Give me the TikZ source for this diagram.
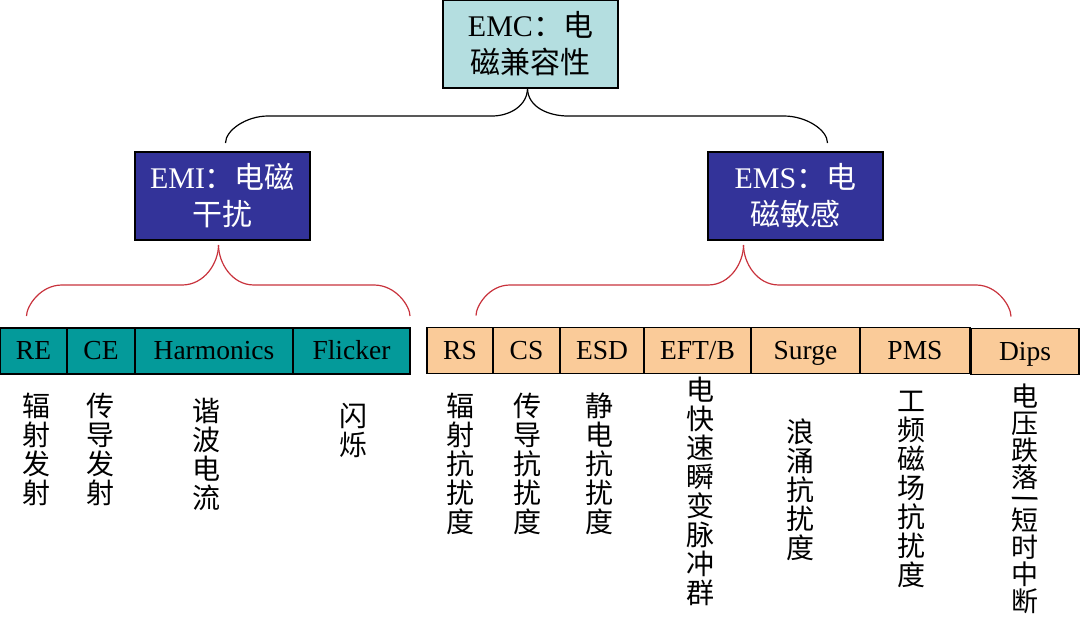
\documentclass[tikz,border=0pt]{standalone}
\usepackage{fontspec}
\setmainfont{Liberation Serif}
\newfontfamily\cjk{Noto Sans CJK SC}
\usepackage{tikz}
\usetikzlibrary{positioning, calc}
\definecolor{toplight}{HTML}{B4DEE0}
\definecolor{midnavy}{HTML}{333399}
\definecolor{leafteal}{HTML}{049A9A}
\definecolor{leafpeach}{HTML}{FACB99}
\definecolor{bracered}{HTML}{C8323C}
\tikzset{
    x=1pt, y=1pt, % Positions below in pixels
    node distance=0pt,
    every node/.style={inner sep=0pt, outer sep=0pt},
    topbox/.style={ % Sets the properties for the two upper levels
        draw=black, line width=1.3pt,
        minimum width=175pt, minimum height=88pt,
        align=center,
        font=\fontsize{30}{37}\selectfont
    },
    leafbox/.style={ % Sets the properties for each standard box
        draw=black, line width=1.3pt,
        minimum height=46pt, text height=18pt, text depth=1pt,
        font=\fontsize{27.5}{30}\selectfont
    },
    tealbox/.style={leafbox, fill=leafteal},
    peachbox/.style={leafbox, fill=leafpeach},
    vlabel/.style={ % Columns of text under the boxes
        anchor=north, align=center,
        font=\cjk\fontsize{28}{29}\selectfont
    },
    dipslabel/.style={ % The last column is set tighter
        vlabel,
        font=\cjk\fontsize{27}{27}\selectfont
    },
    blacklink/.style={draw=black, line width=1.2pt},
    redlink/.style={draw=bracered, line width=1.2pt}
}
\begin{document}
\begin{tikzpicture}
    \useasboundingbox (0,0) rectangle (1080,-625);
    % upper levels
    \node[topbox, fill=toplight]              (emc) at (530.5,-44)  {EMC{\cjk：电}\\{\cjk 磁兼容性}};
    \node[topbox, fill=midnavy, text=white]   (emi) at (222.5,-196) {EMI{\cjk：电磁}\\{\cjk 干扰}};
    \node[topbox, fill=midnavy, text=white]   (ems) at (795.5,-196) {EMS{\cjk：电}\\{\cjk 磁敏感}};
    % emission row
    \node[tealbox, minimum width=67pt]                    (re)       at (33.5,-351) {RE};
    \node[tealbox, minimum width=68pt, right=of re]       (ce)       {CE};
    \node[tealbox, minimum width=158pt, right=of ce]      (harmonics) {Harmonics};
    \node[tealbox, minimum width=117pt, right=of harmonics] (flicker) {Flicker};
    % immunity row
    \node[peachbox, minimum width=66pt]                   (rs)       at (460,-350.5) {RS};
    \node[peachbox, minimum width=67pt, right=of rs]      (cs)       {CS};
    \node[peachbox, minimum width=84pt, right=of cs]      (esd)      {ESD};
    \node[peachbox, minimum width=107pt, right=of esd]    (eftb)     {EFT/B};
    \node[peachbox, minimum width=109pt, right=of eftb]   (surge)    {Surge};
    \node[peachbox, minimum width=110pt, right=of surge]  (pms)      {PMS};
    \node[peachbox, minimum width=108pt, right=1pt of pms, yshift=-1pt] (dips) {Dips};
    % columns
    \node[vlabel] (reText)        at (36,-393)   {辐\\射\\发\\射};
    \node[vlabel] (ceText)        at (100,-393)  {传\\导\\发\\射};
    \node[vlabel] (harmonicsText) at (206,-398)  {谐\\波\\电\\流};
    \node[vlabel] (flickerText)   at (353,-403)  {闪\\烁};
    \node[vlabel] (rsText)        at (460,-393)  {辐\\射\\抗\\扰\\度};
    \node[vlabel] (csText)        at (527,-393)  {传\\导\\抗\\扰\\度};
    \node[vlabel] (esdText)       at (599,-393)  {静\\电\\抗\\扰\\度};
    \node[vlabel] (eftbText)      at (700,-377)  {电\\快\\速\\瞬\\变\\脉\\冲\\群};
    \node[vlabel] (surgeText)     at (800,-419)  {浪\\涌\\抗\\扰\\度};
    \node[vlabel] (pmsText)       at (911,-391)  {工\\频\\磁\\场\\抗\\扰\\度};
    \node[dipslabel] (dipsText)    at (1025,-384) {电\\压\\跌\\落};
    \node[rotate=-72, font=\bfseries\fontsize{36}{36}\selectfont] (dipsSlash) at (1025,-499) {/};
    \node[dipslabel] (dipsTextTwo) at (1025,-508) {短\\时\\中\\断};
    % bends of the braces
    \coordinate (emcLeft)  at (492,-116);
    \coordinate (emcRight) at (568,-116);
    \coordinate (emcOne)   at (268,-116);
    \coordinate (emcTwo)   at (784,-116);
    \coordinate (emiLeft)  at (182,-285);
    \coordinate (emiRight) at (254,-285);
    \coordinate (emiOne)   at (62,-285);
    \coordinate (emiTwo)   at (374,-285);
    \coordinate (emsLeft)  at (708,-285);
    \coordinate (emsRight) at (779,-285);
    \coordinate (emsOne)   at (510,-285);
    \coordinate (emsTwo)   at (976,-285);
    % braces
    \draw[blacklink, shorten >=9pt] ([xshift=-3pt]emc.south) to[out=-90,in=0] (emcLeft) -- (emcOne)
        to[out=180,in=90] ([xshift=3pt]emi.north);
    \draw[blacklink, shorten >=9pt] ([xshift=-3pt]emc.south) to[out=-90,in=180] (emcRight) -- (emcTwo)
        to[out=0,in=90] ([xshift=32pt]ems.north);
    \draw[redlink, shorten <=5pt, shorten >=12pt] ([xshift=-4pt]emi.south) to[out=-90,in=0] (emiLeft) -- (emiOne)
        to[out=180,in=90] ([xshift=-7pt]re.north);
    \draw[redlink, shorten <=5pt, shorten >=12pt] ([xshift=-4pt]emi.south) to[out=-90,in=180] (emiRight) -- (emiTwo)
        to[out=0,in=90] (flicker.north east);
    \draw[redlink, shorten <=5pt, shorten >=12pt] ([xshift=-52pt]ems.south) to[out=-90,in=0] (emsLeft) -- (emsOne)
        to[out=180,in=90] ([xshift=16pt]rs.north);
    \draw[redlink, shorten <=5pt, shorten >=12pt] ([xshift=-52pt]ems.south) to[out=-90,in=180] (emsRight) -- (emsTwo)
        to[out=0,in=90] ([xshift=-14pt]dips.north);
\end{tikzpicture}
\end{document}
